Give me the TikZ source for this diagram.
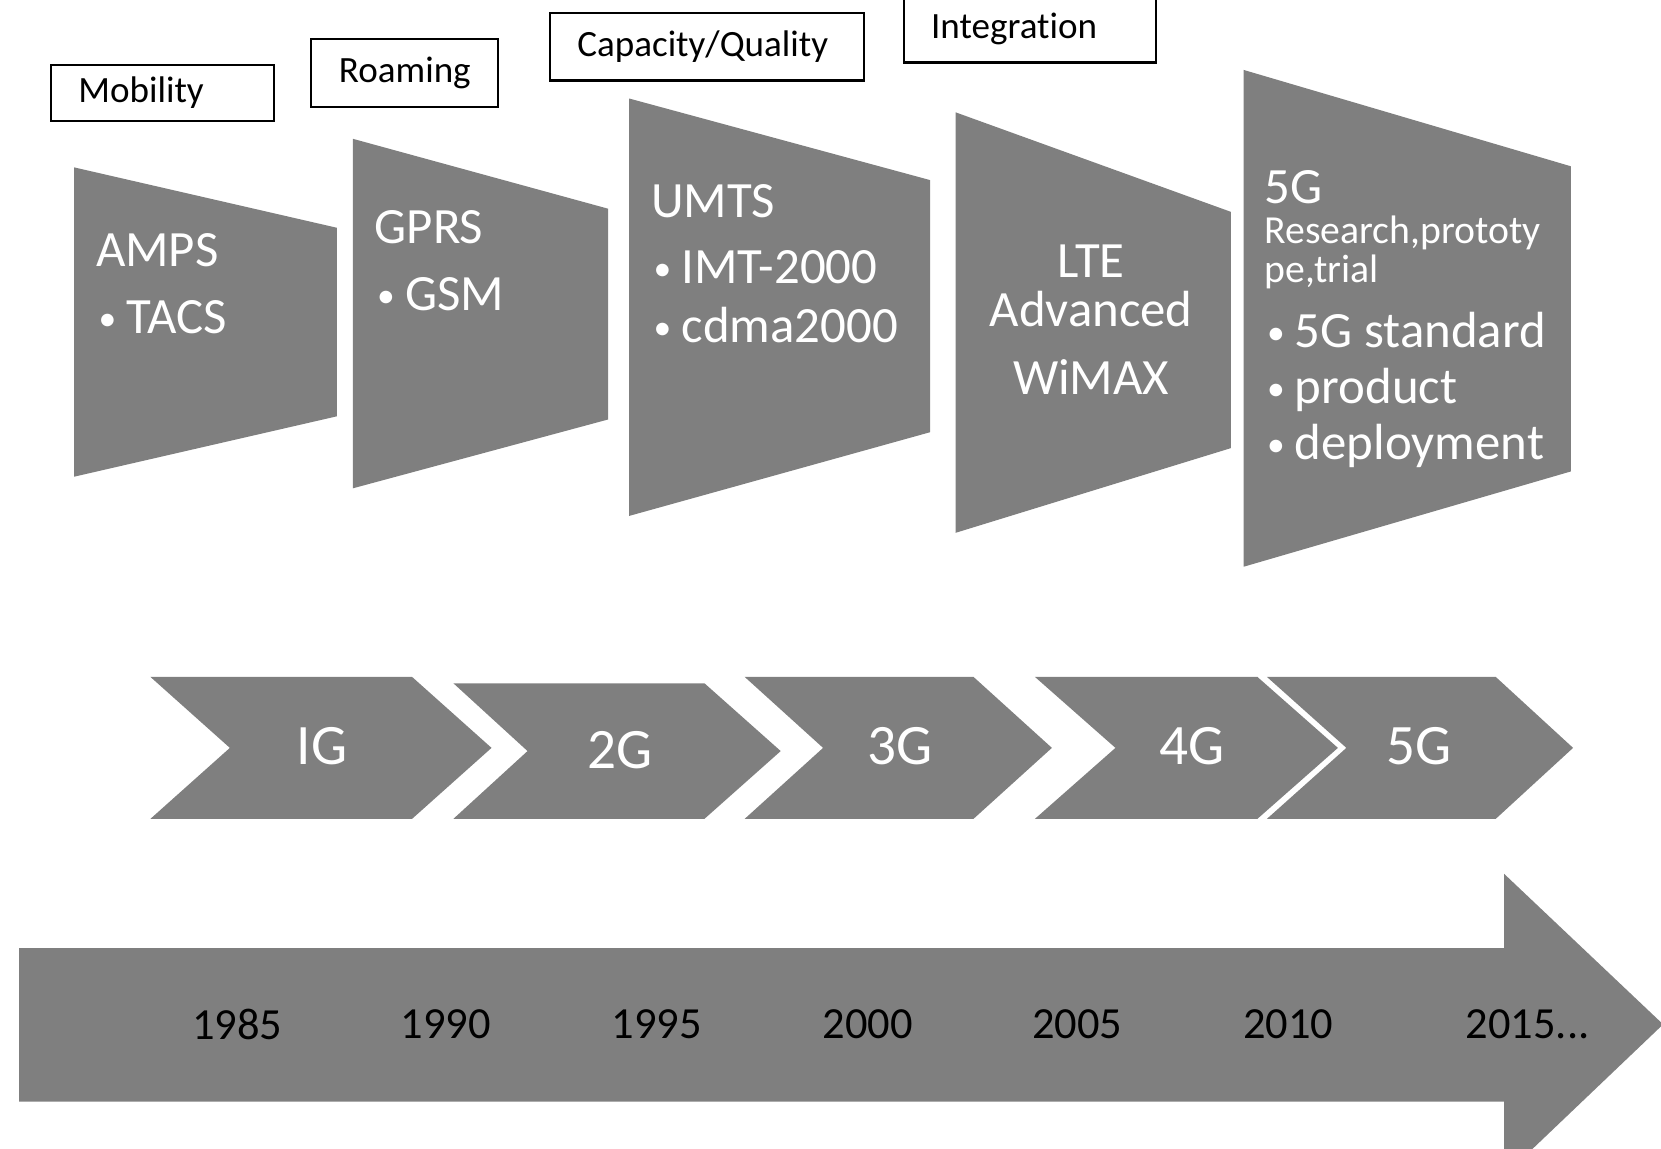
\documentclass[tikz,border=0pt]{standalone}
\usepackage{fontspec}
\setmainfont{Carlito}[Ligatures=NoCommon]
\definecolor{blockgray}{RGB}{127,127,127}
\newcommand\itembul[1]{\makebox[0.6em][l]{\hspace{0.05em}\raisebox{0.06em}{\scalebox{0.7}{\textbullet}}}#1}

\begin{document}
\begin{tikzpicture}[x=0.3pt,y=-0.3pt,
			block/.style={fill=blockgray},
			tag/.style={draw,line width=0.6pt,anchor=north west,align=left,
				inner xsep=7.8pt,inner ysep=0pt,font=\fontsize{10.5}{12}\selectfont},
			txt/.style={anchor=base west,inner sep=0pt,text=white,
				font=\fontsize{14.4}{16}\selectfont},
			smalltxt/.style={txt,font=\fontsize{11.25}{13}\selectfont},
			gen/.style={inner sep=0pt,text=white,font=\fontsize{16.2}{18}\selectfont},
			year/.style={inner sep=0pt,font=\fontsize{12.6}{14}\selectfont}]
\useasboundingbox (0,0) rectangle (1568,1084);
\clip (0,0) rectangle (1568,1084);

% labels on top
\node[tag,text width=47.7pt,minimum height=15.9pt] (mob) at (47,60) {Mobility};
\node[tag,text width=37.2pt,minimum height=19.2pt] (roam) at (293,36) {Roaming};
\node[tag,text width=73.5pt,minimum height=19.2pt] (capa) at (518,11) {Capacity/Quality};
\node[tag,text width=55.8pt,minimum height=19.2pt] (integ) at (852,-6) {Integration};

% systems
\fill[block] (70,158) -- (318,215) -- (318,393) -- (70,450) -- cycle;
\node[txt] (amps) at (90,252) {AMPS};
\node[txt] (tacs) at (90,315) {\itembul{TACS}};

\fill[block] (333,131) -- (574,197) -- (574,396) -- (333,461) -- cycle;
\node[txt] (gprs) at (353,230) {GPRS};
\node[txt] (gsm) at (353,293) {\itembul{GSM}};

\fill[block] (594,93) -- (878,170) -- (878,408) -- (594,487) -- cycle;
\node[txt] (umts) at (614,205) {UMTS};
\node[txt] (imt) at (614,268) {\itembul{IMT-2000}};
\node[txt] (cdma) at (614,323) {\itembul{cdma2000}};

\fill[block] (902,106) -- (1162,200) -- (1162,423) -- (902,503) -- cycle;
\node[txt,anchor=base] (lte) at (1030,262) {LTE};
\node[txt,anchor=base] (adv) at (1030,308) {Advanced};
\node[txt,anchor=base] (wimax) at (1030,372) {WiMAX};

\fill[block] (1174,66) -- (1483,157) -- (1483,445) -- (1174,535) -- cycle;
\node[txt] (fiveg) at (1193,192) {5G};
\node[smalltxt] (research) at (1193,230) {Research,prototy};
\node[smalltxt] (trial) at (1193,267) {pe,trial};
\node[txt] (std) at (1193,328) {\itembul{5G standard}};
\node[txt] (prod) at (1193,381) {\itembul{product}};
\node[txt] (depl) at (1193,434) {\itembul{deployment}};

% generations
\fill[block] (142,639) -- (389,639) -- (464,706) -- (389,773) -- (142,773) -- (217,706) -- cycle;
\node[gen] (g1) at (304,704) {IG};
\fill[block] (428,645) -- (665,645) -- (737,709) -- (665,773) -- (428,773) -- (498,709) -- cycle;
\node[gen] (g2) at (585,708) {2G};
\fill[block] (703,639) -- (919,639) -- (993,706) -- (919,773) -- (703,773) -- (777,706) -- cycle;
\node[gen] (g3) at (850,704) {3G};
\fill[block] (977,639) -- (1187,639) -- (1263,706) -- (1187,773) -- (977,773) -- (1053,706) -- cycle;
\node[gen] (g4) at (1125,704) {4G};
\fill[block] (1196,639) -- (1412,639) -- (1485,706) -- (1412,773) -- (1196,773) -- (1271,706) -- cycle;
\node[gen] (g5) at (1340,704) {5G};

% time line
\fill[block] (18,895) -- (1420,895) -- (1420,825) -- (1570,967) -- (1420,1110)
	-- (1420,1040) -- (18,1040) -- cycle;
\node[year] (y85) at (224,967) {1985};
\node[year] (y90) at (421,967) {1990};
\node[year] (y95) at (620,967) {1995};
\node[year] (y00) at (819,967) {2000};
\node[year] (y05) at (1017,967) {2005};
\node[year] (y10) at (1216,967) {2010};
\node[year] (y15) at (1442,967) {2015...};
\end{tikzpicture}
\end{document}
